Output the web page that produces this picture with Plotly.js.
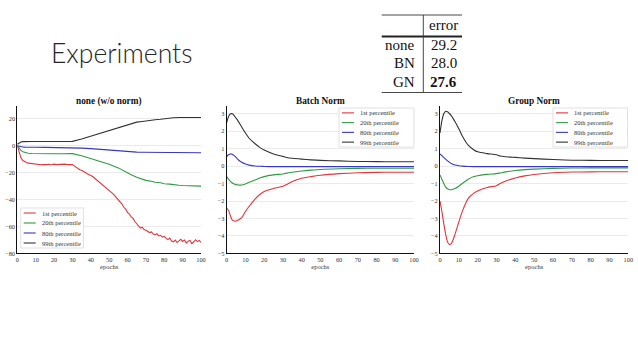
<!DOCTYPE html>
<html><head><meta charset="utf-8">
<script src="https://cdn.plot.ly/plotly-3.0.1.min.js"></script>
<style>html,body{margin:0;padding:0;background:#fff;}#chart{width:638px;height:359px;}</style>
</head><body><div id="chart"></div>
<script>
// ---------- data ----------
const seriesNames = ['1st percentile','20th percentile','80th percentile','99th percentile'];
const seriesColors = ['#e2353d','#2f9a43','#3838c2','#333333'];
const panelTitles = ['none (w/o norm)','Batch Norm','Group Norm'];

const tableRows = ['none','BN','GN'];
const tableErrors = ['29.2','28.0','27.6'];
const tableHeader = 'error';

const xTicks = [0,10,20,30,40,50,60,70,80,90,100];
const yTicksNone = [-80,-60,-40,-20,0,20];
const yTicksNorm = [-5,-4,-3,-2,-1,0,1,2,3];

// none (w/o norm)
const noneEpochsFine = [0,1,2,3,4,5,6,7,8,9,10,11,12,13,14,15,16,17,18,19,20,21,22,23,24,25,26,27,28,29,30,31,32,33,34,35,36,37,38,39,40,41,42,43,44,45,46,47,48,49,50,51,52,53,54,55,56,57,58,59,60,61,62,63,64,65,66,67,68,69,70,71,72,73,74,75,76,77,78,79,80,81,82,83,84,85,86,87,88,89,90,91,92,93,94,95,96,97,98,99,100];
const noneP1 = [0,-5,-9,-11,-12,-12.5,-13,-13.2,-13.5,-13.6,-13.8,-14.1,-13.9,-14.2,-14.0,-14.3,-14.1,-13.8,-14.2,-14.0,-13.7,-14.1,-14.0,-13.8,-14.2,-14.0,-13.7,-14.1,-13.9,-14.2,-14.0,-15.0,-16.2,-16.8,-17.9,-18.3,-19.4,-19.9,-20.8,-21.2,-22.1,-22.9,-24.0,-25.1,-26.3,-27.2,-28.6,-29.5,-30.9,-31.8,-33.2,-34.4,-35.6,-37.1,-38.5,-40.3,-41.6,-43.4,-45.8,-47.2,-49.6,-50.8,-52.9,-54.1,-56.4,-57.8,-59.5,-61.2,-60.6,-62.3,-62.9,-63.8,-64.6,-64.1,-65.7,-66.2,-65.5,-67.1,-66.6,-68.0,-67.4,-68.9,-69.8,-68.7,-70.9,-71.5,-70.2,-72.0,-70.8,-69.6,-71.2,-70.1,-72.4,-71.0,-70.5,-72.8,-71.6,-69.9,-71.3,-70.4,-71.8];
const noneEpochs = [0,1,2,3,4,5,6,8,10,15,20,25,30,35,40,45,50,55,60,62,65,68,70,73,75,78,80,83,85,88,90,93,95,98,100];
const noneP20 = [0,-2,-3.5,-4.5,-5,-5.4,-5.6,-5.8,-5.9,-6,-6,-6,-5.9,-7.5,-9.5,-11.5,-13.8,-16.5,-20.5,-21.6,-23.4,-24.8,-25.8,-26.5,-27.2,-27.6,-28.3,-28.6,-29.1,-29.4,-29.6,-29.9,-29.8,-30.4,-30.1];
const noneP80 = [0,-0.5,-0.8,-1.0,-1.1,-1.2,-1.2,-1.2,-1.2,-1.25,-1.3,-1.35,-1.4,-1.8,-2.2,-2.8,-3.3,-4.0,-4.6,-4.7,-4.8,-4.9,-5.0,-5.0,-5.0,-5.1,-5.1,-5.1,-5.1,-5.1,-5.1,-5.2,-5.2,-5.2,-5.2];
const noneP99 = [1,2,2.7,3,3.1,3.1,3.1,3.1,3.1,3.1,3.15,3.2,3.2,5,7,9,11.5,13.5,15.5,16.2,17.5,18.0,18.5,19.0,19.3,19.6,20.0,20.5,20.8,20.9,21.0,21.2,21.2,21.0,21.0];

// Batch Norm / Group Norm
const normEpochs = [0,1,2,3,4,5,6,8,10,12,15,18,20,25,30,32,35,40,45,50,60,70,80,90,100];
const bnP99 = [2.5,2.85,3.0,3.0,2.9,2.75,2.6,2.25,1.9,1.6,1.3,1.05,0.92,0.7,0.56,0.5,0.45,0.4,0.36,0.33,0.3,0.27,0.26,0.25,0.25];
const bnP80 = [0.55,0.65,0.7,0.68,0.6,0.5,0.38,0.22,0.12,0.06,0.01,-0.01,-0.02,-0.03,-0.03,-0.03,-0.03,-0.03,-0.03,-0.03,-0.03,-0.03,-0.03,-0.03,-0.03];
const bnP20 = [-0.6,-0.75,-0.88,-0.97,-1.03,-1.06,-1.08,-1.08,-1.02,-0.93,-0.8,-0.67,-0.6,-0.5,-0.45,-0.4,-0.35,-0.28,-0.23,-0.19,-0.15,-0.13,-0.12,-0.12,-0.12];
const bnP1 = [-2.4,-2.55,-2.85,-3.1,-3.15,-3.15,-3.1,-2.95,-2.6,-2.3,-1.9,-1.6,-1.45,-1.28,-1.15,-1.05,-0.88,-0.7,-0.6,-0.52,-0.43,-0.38,-0.36,-0.35,-0.35];

const gnP99 = [1.9,2.6,3.0,3.15,3.12,3.02,2.9,2.55,2.15,1.7,1.2,0.93,0.82,0.72,0.65,0.58,0.54,0.5,0.46,0.43,0.38,0.34,0.33,0.32,0.32];
const gnP80 = [0.7,0.6,0.5,0.4,0.3,0.22,0.15,0.06,0.02,0.0,-0.02,-0.03,-0.03,-0.03,-0.03,-0.03,-0.03,-0.03,-0.03,-0.03,-0.03,-0.03,-0.03,-0.03,-0.03];
const gnP20 = [-0.5,-0.75,-1.0,-1.2,-1.3,-1.35,-1.35,-1.28,-1.15,-0.98,-0.75,-0.6,-0.55,-0.47,-0.43,-0.39,-0.33,-0.25,-0.2,-0.17,-0.13,-0.11,-0.1,-0.1,-0.1];
const gnP1 = [-2.0,-2.6,-3.3,-3.9,-4.35,-4.5,-4.45,-3.9,-3.2,-2.55,-1.85,-1.55,-1.42,-1.22,-1.12,-1.0,-0.85,-0.68,-0.56,-0.48,-0.38,-0.34,-0.33,-0.32,-0.32];

// ---------- layout helpers ----------
const W = 638, H = 359;
const px = x => x / W;
const py = y => 1 - y / H;
const SERIF = 'Liberation Serif, Times New Roman, serif';

const panels = [
  {xa:'x', ya:'y', xd:[17.3,201], yr:[-80,29.5], yt:yTicksNone,
   series:[[noneEpochsFine,noneP1],[noneEpochs,noneP20],[noneEpochs,noneP80],[noneEpochs,noneP99]], shape:'linear',
   legend:{x0:20.7,y0:208,x1:83.5,y1:248}},
  {xa:'x2', ya:'y2', xd:[226.7,414], yr:[-5,3.45], yt:yTicksNorm,
   series:[[normEpochs,bnP1],[normEpochs,bnP20],[normEpochs,bnP80],[normEpochs,bnP99]], shape:'spline',
   legend:{x0:339,y0:108,x1:414,y1:147}},
  {xa:'x3', ya:'y3', xd:[440,628.3], yr:[-5,3.45], yt:yTicksNorm,
   series:[[normEpochs,gnP1],[normEpochs,gnP20],[normEpochs,gnP80],[normEpochs,gnP99]], shape:'spline',
   legend:{x0:553,y0:108,x1:627.5,y1:147}}
];
const plotTop = 106, plotBottom = 253.3;

const data = [];
const layout = {
  width: W, height: H, autosize: false,
  margin: {l:0, r:0, t:0, b:0},
  paper_bgcolor: '#fff', plot_bgcolor: '#fff',
  showlegend: false,
  font: {family: SERIF, color: '#222'},
  shapes: [], annotations: []
};

panels.forEach((p, i) => {
  p.series.forEach((s, k) => {
    data.push({
      x: s[0], y: s[1], type: 'scatter', mode: 'lines',
      name: seriesNames[k], xaxis: p.xa, yaxis: p.ya,
      line: {color: seriesColors[k], width: 1.1, shape: p.shape, smoothing: 0.7},
      hoverinfo: 'skip'
    });
  });
  const sfx = i === 0 ? '' : String(i + 1);
  layout['xaxis' + sfx] = {
    domain: [px(p.xd[0]), px(p.xd[1])], range: [0, 100], anchor: p.ya,
    tickvals: xTicks, ticks: '', showgrid: false, zeroline: false,
    showline: true, linecolor: '#111', linewidth: 1,
    tickfont: {size: 6.3, family: SERIF, color: '#333'},
    title: {text: 'epochs', font: {size: 6.5, family: SERIF, color: '#333'}, standoff: 1},
    fixedrange: true
  };
  layout['yaxis' + sfx] = {
    domain: [py(plotBottom), py(plotTop)], range: p.yr, anchor: p.xa,
    tickvals: p.yt, ticks: '', showgrid: true, gridcolor: '#e6e6e6', gridwidth: 0.8,
    zeroline: false, showline: true, linecolor: '#111', linewidth: 1,
    tickfont: {size: 6.3, family: SERIF, color: '#333'}, fixedrange: true
  };
  // panel title
  layout.annotations.push({
    xref: 'paper', yref: 'paper', x: px((p.xd[0] + p.xd[1]) / 2), y: py(101.5),
    xanchor: 'center', yanchor: 'middle', showarrow: false,
    text: '<b>' + panelTitles[i] + '</b>', font: {size: 9.3, family: SERIF, color: '#111'}
  });
  // legend box
  const L = p.legend;
  layout.shapes.push({type: 'rect', xref: 'paper', yref: 'paper',
    x0: px(L.x0), x1: px(L.x1), y0: py(L.y1), y1: py(L.y0),
    line: {color: '#cfcfcf', width: 0.6}, fillcolor: 'rgba(255,255,255,0.95)', layer: 'above'});
  const step = (L.y1 - L.y0) / 4;
  seriesNames.forEach((nm, k) => {
    const yy = L.y0 + step * (k + 0.5);
    layout.shapes.push({type: 'line', xref: 'paper', yref: 'paper',
      x0: px(L.x0 + 3), x1: px(L.x0 + 15), y0: py(yy), y1: py(yy),
      line: {color: seriesColors[k], width: 1.1}, layer: 'above'});
    layout.annotations.push({xref: 'paper', yref: 'paper', x: px(L.x0 + 19), y: py(yy),
      xanchor: 'left', yanchor: 'middle', showarrow: false, text: nm,
      font: {size: 6.5, family: SERIF, color: '#333'}});
  });
});

// slide title
layout.annotations.push({xref: 'paper', yref: 'paper', x: px(49), y: py(53),
  xanchor: 'left', yanchor: 'middle', showarrow: false, text: 'Experiments',
  font: {size: 26.5, family: 'Lato, Open Sans, sans-serif', color: '#262626', weight: 300}});

// table
const tL = 381.7, tR = 462, tV = 423.3;
const tTop = 15, tMid = 36.5, tBot = 92.5;
layout.shapes.push({type:'line', xref:'paper', yref:'paper', x0:px(tL), x1:px(tR), y0:py(tTop), y1:py(tTop), line:{color:'#333', width:0.9}});
layout.shapes.push({type:'line', xref:'paper', yref:'paper', x0:px(tL), x1:px(tR), y0:py(tMid), y1:py(tMid), line:{color:'#222', width:1.8}});
layout.shapes.push({type:'line', xref:'paper', yref:'paper', x0:px(tL), x1:px(tR), y0:py(tBot), y1:py(tBot), line:{color:'#333', width:0.9}});
layout.shapes.push({type:'line', xref:'paper', yref:'paper', x0:px(tV), x1:px(tV), y0:py(tBot), y1:py(tTop), line:{color:'#333', width:0.9}});
const TFONT = {size: 15, family: SERIF, color: '#111'};
layout.annotations.push({xref:'paper', yref:'paper', x:px(443.5), y:py(25), xanchor:'center', yanchor:'middle',
  showarrow:false, text: tableHeader, font: TFONT});
const rowY = [45, 63.3, 81.5];
tableRows.forEach((r, k) => {
  layout.annotations.push({xref:'paper', yref:'paper', x:px(416.5), y:py(rowY[k]), xanchor:'right', yanchor:'middle',
    showarrow:false, text: r, font: TFONT});
  const bold = k === tableRows.length - 1;
  layout.annotations.push({xref:'paper', yref:'paper', x:px(443.5), y:py(rowY[k]), xanchor:'center', yanchor:'middle',
    showarrow:false, text: bold ? '<b>' + tableErrors[k] + '</b>' : tableErrors[k], font: TFONT});
});

Plotly.newPlot('chart', data, layout, {staticPlot: true, displayModeBar: false});
</script></body></html>
